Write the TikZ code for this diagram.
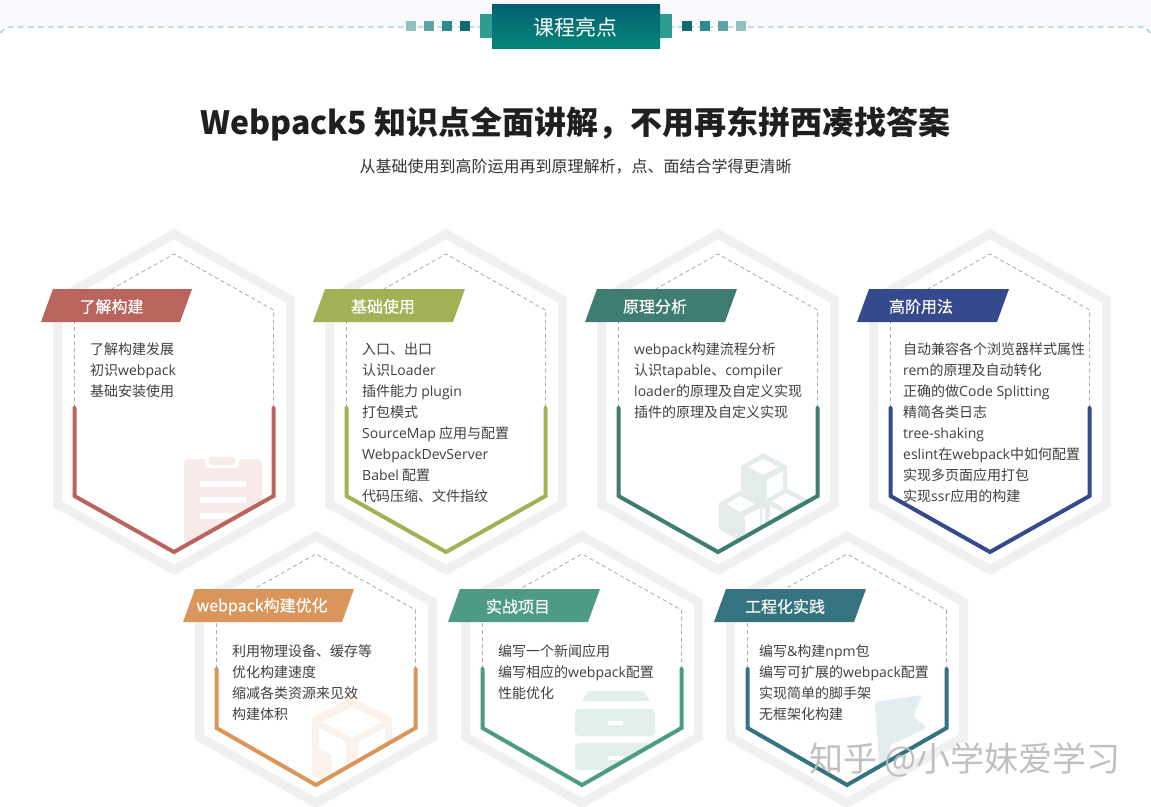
\documentclass[tikz,border=0pt]{standalone}
\usepackage{fontspec}
\setmainfont{Noto Sans CJK SC}
\newfontfamily\labfont[FakeBold=0.35]{Noto Sans CJK SC}
\newfontfamily\latfont{Open Sans}
\newcommand{\lat}[1]{{\latfont\fontsize{14}{14}\selectfont #1}}
\usetikzlibrary{calc}
\definecolor{bandgray}{HTML}{F0F0F0}
\definecolor{dashgray}{HTML}{B0B0B0}
\definecolor{topdash}{HTML}{A8D0CC}
\definecolor{topstrip}{HTML}{F8F9FD}
\definecolor{cRed}{HTML}{B9655E}
\definecolor{cOlive}{HTML}{A3B055}
\definecolor{cTeal}{HTML}{3F7D72}
\definecolor{cBlue}{HTML}{354A8C}
\definecolor{cOrange}{HTML}{D9955A}
\definecolor{cGreen}{HTML}{4D9B85}
\definecolor{cSea}{HTML}{34737F}
\tikzset{
  hexband/.style={draw=bandgray,line width=9pt,miter limit=10},
  hexdash/.style={draw=dashgray,line width=0.9pt,dash pattern=on 4pt off 3pt},
  hexlow/.style={line width=4pt,line join=miter,line cap=round},
  lab/.style={text=white,font=\labfont\fontsize{16}{16}\selectfont,inner sep=0pt},
  bodytxt/.style={text=black!75,font=\fontsize{14}{14}\selectfont,anchor=base west,inner sep=0pt},
}
\newcommand{\hexback}[1]{%
  \draw[hexband] ({#1-116.5},\hS) -- (#1,\hT) -- ({#1+116.5},\hS) -- ({#1+116.5},\hL) -- (#1,\hB) -- ({#1-116.5},\hL) -- cycle;}
\newcommand{\hexfront}[2]{%
  \draw[hexdash] ({#1-99.5},\hC) -- ({#1-99.5},\hDs) -- (#1,\hD) -- ({#1+99.5},\hDs) -- ({#1+99.5},\hC);
  \draw[hexlow,draw=#2] ({#1-99.5},\hC) -- ({#1-99.5},\hK) -- (#1,\hE) -- ({#1+99.5},\hK) -- ({#1+99.5},\hC);}
\newcommand{\hexclip}[1]{\clip ({#1-99.5},\hT) -- ({#1+99.5},\hT) -- ({#1+99.5},\hK) -- (#1,\hE) -- ({#1-99.5},\hK) -- cycle;}
\newcommand{\rowone}{\def\hT{234}\def\hS{300}\def\hL{504}\def\hB{570}\def\hD{254}\def\hDs{310}\def\hC{408}\def\hK{496}\def\hE{552}\def\lT{289}\def\lB{322}}
\newcommand{\rowtwo}{\def\hT{536}\def\hS{602}\def\hL{737}\def\hB{803}\def\hD{554}\def\hDs{610}\def\hC{669}\def\hK{728}\def\hE{785}\def\lT{589}\def\lB{622}}
\newcommand{\hexlabel}[6]{%
  \fill[#4] (#2,\lB) -- ({#2+12},\lT) -- ({#2+#3},\lT) -- ({#2+#3-12},\lB) -- cycle;
  \node[lab] (#1) at (#5,{(\lT+\lB)/2+1}) {#6};}
\begin{document}
\begin{tikzpicture}[x=1pt,y=-1pt]
\useasboundingbox (0,0) rectangle (1151,806);
\fill[white] (0,0) rectangle (1151,806);
% ---- top strip
\fill[topstrip] (0,0) rectangle (1151,27);
\draw[topdash,line width=1.4pt,dash pattern=on 6pt off 4pt] (0,32) to[out=-70,in=180] (7,27) -- (1144,27) to[out=0,in=-110] (1151,32);
\foreach \x/\c in {406/8FC1C0,424/5FA5A5,442/2F8A8E,460/0E6A70,682/0E6A70,700/2F8A8E,718/5FA5A5,736/8FC1C0}{
  \definecolor{sqc}{HTML}{\c}
  \fill[sqc] (\x,21) rectangle ({\x+10},31);
}
\definecolor{sidec}{HTML}{2F9C90}
\fill[sidec] (480,14) rectangle (492,38);
\fill[sidec] (660,14) rectangle (672,38);
\definecolor{gTop}{HTML}{035F70}
\definecolor{gBot}{HTML}{06857A}
\shade[top color=gTop,bottom color=gBot] (492,4) rectangle (660,48);
\node[text=white,font=\fontsize{21}{21}\selectfont,inner sep=0pt] (badge) at (575.5,27) {课程亮点};
% ---- headings
\node[text=black!88,font=\bfseries\fontsize{32}{32}\selectfont,inner sep=0pt] (title) at (575.5,124) {Webpack5 知识点全面讲解，不用再东拼西凑找答案};
\node[text=black!80,font=\fontsize{16}{16}\selectfont,inner sep=0pt] (subtitle) at (575.5,167) {从基础使用到高阶运用再到原理解析，点、面结合学得更清晰};
% ---- row one
\rowone
\foreach \c in {174,446,718,990}{\hexback{\c}}
\begin{scope}
  \hexclip{174}
  \definecolor{ic}{HTML}{F7EAE8}
  \fill[ic,rounded corners=5pt] (184,459) rectangle (262,545);
  \fill[white,rounded corners=3pt] (205,452) rectangle (239,468);
  \fill[ic,rounded corners=3pt] (209,457) rectangle (235,465);
  \fill[white] (200,481) rectangle (246,487);
  \fill[white] (200,497) rectangle (246,503);
  \fill[white] (200,513) rectangle (246,519);
\end{scope}
\begin{scope}
  \hexclip{718}
  \definecolor{ic}{HTML}{E3ECEA}
  \fill[ic] (763,453) -- (787,466) -- (787,496) -- (763,509) -- (741,496) -- (741,466) -- cycle;
  \fill[white] (763,459) -- (779,467) -- (763,475) -- (748,467) -- cycle;
  \fill[white] (767,480) -- (783,471) -- (783,491) -- (767,500) -- cycle;
  \fill[ic] (740,491) -- (762,503) -- (762,529) -- (740,541) -- (719,529) -- (719,503) -- cycle;
  \fill[white] (740,496) -- (755,504) -- (740,512) -- (726,504) -- cycle;
  \fill[white] (745,516) -- (760,508) -- (760,530) -- (745,538) -- cycle;
  \fill[ic] (786,488) -- (808,500) -- (808,530) -- (786,542) -- (765,530) -- (765,500) -- cycle;
  \fill[white] (786,493) -- (801,501) -- (786,509) -- (772,501) -- cycle;
  \fill[white] (770,506) -- (783,513) -- (783,540) -- (770,533) -- cycle;
\end{scope}
\hexfront{174}{cRed}
\hexfront{446}{cOlive}
\hexfront{718}{cTeal}
\hexfront{990}{cBlue}
\hexlabel{labA}{41}{151}{cRed}{111.5}{了解构建}
\hexlabel{labB}{313}{152}{cOlive}{383}{基础使用}
\hexlabel{labC}{585}{152}{cTeal}{655}{原理分析}
\hexlabel{labD}{857}{152}{cBlue}{921}{高阶用法}
\foreach \s [count=\i] in {了解构建发展,初识\lat{webpack},基础安装使用}
  \node[bodytxt] (tA\i) at (90,{354+21*(\i-1)}) {\s};
\foreach \s [count=\i] in {入口、出口,认识\lat{Loader},插件能力 \lat{plugin},打包模式,\lat{SourceMap} 应用与配置,\lat{WebpackDevServer},\lat{Babel} 配置,代码压缩、文件指纹}
  \node[bodytxt] (tB\i) at (362,{354+21*(\i-1)}) {\s};
\foreach \s [count=\i] in {\lat{webpack}构建流程分析,认识\lat{tapable}、\lat{compiler},\lat{loader}的原理及自定义实现,插件的原理及自定义实现}
  \node[bodytxt] (tC\i) at (634,{354+21*(\i-1)}) {\s};
\foreach \s [count=\i] in {自动兼容各个浏览器样式属性,\lat{rem}的原理及自动转化,正确的做\lat{Code Splitting},精简各类日志,\lat{tree-shaking},\lat{eslint}在\lat{webpack}中如何配置,实现多页面应用打包,实现\lat{ssr}应用的构建}
  \node[bodytxt] (tD\i) at (903,{354+21*(\i-1)}) {\s};
% ---- row two
\rowtwo
\foreach \c in {316,582,847}{\hexback{\c}}
\begin{scope}
  \hexclip{316}
  \definecolor{ic}{HTML}{FBF3EB}
  \fill[ic] (352,697) -- (392,718) -- (392,775) -- (352,795) -- (312,775) -- (312,718) -- cycle;
  \fill[white] (352,707) -- (383,722) -- (352,738) -- (322,722) -- cycle;
  \fill[white] (319,728) -- (346,742) -- (346,785) -- (332,778) -- (332,755) -- (319,748) -- cycle;
  \fill[white] (358,742) -- (385,728) -- (385,760) -- (358,775) -- cycle;
\end{scope}
\begin{scope}
  \hexclip{582}
  \definecolor{ic}{HTML}{E3EFEB}
  \fill[ic] (588,691) -- (643,691) -- (650,701) -- (582,701) -- cycle;
  \fill[ic,rounded corners=4pt] (575,709) rectangle (655,736);
  \fill[ic,rounded corners=4pt] (575,743) rectangle (655,770);
  \fill[white] (608,721) rectangle (623,725);
  \fill[white] (608,756) rectangle (623,760);
\end{scope}
\begin{scope}
  \hexclip{847}
  \definecolor{ic}{HTML}{E3EDEF}
  \fill[ic,rounded corners=2pt] (875,702) -- (922,695) -- (913,716) -- (927,728) -- (890,745) -- (893,780) -- (880,780) -- cycle;
\end{scope}
\hexfront{316}{cOrange}
\hexfront{582}{cGreen}
\hexfront{847}{cSea}
\hexlabel{labE}{183}{171}{cOrange}{262}{webpack构建优化}
\hexlabel{labF}{448}{152}{cGreen}{518}{实战项目}
\hexlabel{labG}{714}{152}{cSea}{785}{工程化实践}
\foreach \s [count=\i] in {利用物理设备、缓存等,优化构建速度,缩减各类资源来见效,构建体积}
  \node[bodytxt] (tE\i) at (232,{656+21*(\i-1)}) {\s};
\foreach \s [count=\i] in {编写一个新闻应用,编写相应的\lat{webpack}配置,性能优化}
  \node[bodytxt] (tF\i) at (498,{656+21*(\i-1)}) {\s};
\foreach \s [count=\i] in {编写\lat{\&}构建\lat{npm}包,编写可扩展的\lat{webpack}配置,实现简单的脚手架,无框架化构建}
  \node[bodytxt] (tG\i) at (759,{656+21*(\i-1)}) {\s};
% ---- watermark
\node[text=black!27,font=\fontsize{34}{34}\selectfont,inner sep=0pt,opacity=0.9] (mark) at (965,760) {知乎 @小学妹爱学习};
\end{tikzpicture}
\end{document}
